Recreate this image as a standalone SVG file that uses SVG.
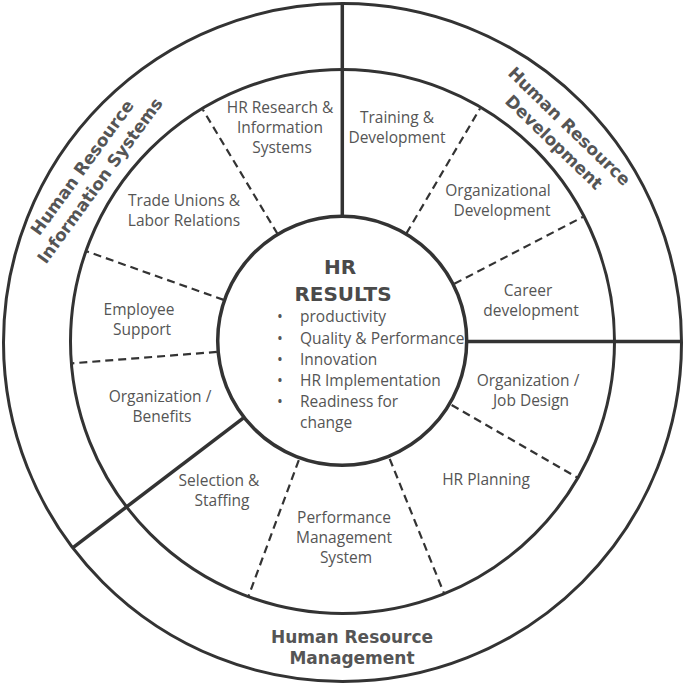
<svg xmlns="http://www.w3.org/2000/svg" width="685" height="683" viewBox="0 0 685 683">
<style>
.ring{fill:none;stroke:#333;stroke-width:3}
.solid{stroke:#333;stroke-width:3.5;fill:none}
.dash{stroke:#333;stroke-width:2.2;stroke-dasharray:8 5;fill:none}
.lbl{font-family:"Open Sans","DejaVu Sans",sans-serif;font-size:15.5px;fill:#555;text-anchor:middle}
.blt{font-family:"Open Sans","DejaVu Sans",sans-serif;font-size:15.5px;fill:#555}
.big{font-family:"DejaVu Sans","Verdana",sans-serif;font-weight:bold;font-size:17px;fill:#555;text-anchor:middle}
.ctr{font-family:"DejaVu Sans","Verdana",sans-serif;font-weight:bold;font-size:20px;fill:#4a4a4a;text-anchor:middle}
</style>
<rect width="685" height="683" fill="#fff"/>
<g id="rings">
<circle class="ring" cx="342.5" cy="342.5" r="339"/>
<circle class="ring" cx="342.5" cy="341.5" r="272"/>
</g>
<g id="connectors">
<line class="solid" x1="342.3" y1="216" x2="342.3" y2="3"/>
<line class="solid" x1="467" y1="341.5" x2="682" y2="341.5"/>
<line class="solid" x1="243.2" y1="418.2" x2="73" y2="547.6"/>
<line class="dash" x1="277.6" y1="234" x2="202.9" y2="109.7"/>
<line class="dash" x1="223.7" y1="299.9" x2="87.1" y2="251.5"/>
<line class="dash" x1="216.9" y1="351.9" x2="72.3" y2="363.3"/>
<line class="dash" x1="298.8" y1="460.2" x2="248.5" y2="596.2"/>
<line class="dash" x1="389.7" y1="458.8" x2="444" y2="593.3"/>
<line class="dash" x1="451.6" y1="405" x2="577.2" y2="477.5"/>
<line class="dash" x1="454.3" y1="283.8" x2="582.9" y2="216.9"/>
<line class="dash" x1="406.4" y1="233.4" x2="480" y2="108.5"/>
</g>
<g id="center">
<circle cx="342.2" cy="340.8" r="124.5" fill="#fff" stroke="#333" stroke-width="3.5"/>
<text class="ctr" x="340" y="274">HR</text>
<text class="ctr" x="343" y="301">RESULTS</text>
<text class="blt" x="277" y="322">•</text>
<text class="blt" x="300" y="322">productivity</text>
<text class="blt" x="277" y="343.5">•</text>
<text class="blt" x="300" y="343.5">Quality &amp; Performance</text>
<text class="blt" x="277" y="364.5">•</text>
<text class="blt" x="300" y="364.5">Innovation</text>
<text class="blt" x="277" y="385.5">•</text>
<text class="blt" x="300" y="385.5">HR Implementation</text>
<text class="blt" x="277" y="406.5">•</text>
<text class="blt" x="300" y="406.5">Readiness for</text>
<text class="blt" x="300" y="427.5">change</text>
</g>
<g id="hr-research"><text class="lbl" x="280" y="113">HR Research &amp;</text><text class="lbl" x="280" y="133">Information</text><text class="lbl" x="282" y="153">Systems</text></g>
<g id="training"><text class="lbl" x="397" y="123">Training &amp;</text><text class="lbl" x="397" y="143">Development</text></g>
<g id="org-dev"><text class="lbl" x="498" y="196">Organizational</text><text class="lbl" x="502" y="216">Development</text></g>
<g id="career"><text class="lbl" x="528" y="296">Career</text><text class="lbl" x="531" y="316">development</text></g>
<g id="job-design"><text class="lbl" x="528" y="386">Organization /</text><text class="lbl" x="531" y="406">Job Design</text></g>
<g id="hr-planning"><text class="lbl" x="486" y="485">HR Planning</text></g>
<g id="performance"><text class="lbl" x="344" y="523">Performance</text><text class="lbl" x="344" y="543">Management</text><text class="lbl" x="346" y="563">System</text></g>
<g id="selection"><text class="lbl" x="219" y="486">Selection &amp;</text><text class="lbl" x="222" y="506">Staffing</text></g>
<g id="benefits"><text class="lbl" x="160" y="401.5">Organization /</text><text class="lbl" x="162" y="422">Benefits</text></g>
<g id="employee-support"><text class="lbl" x="139" y="315">Employee</text><text class="lbl" x="142" y="335">Support</text></g>
<g id="trade-unions"><text class="lbl" x="184" y="206">Trade Unions &amp;</text><text class="lbl" x="184" y="226">Labor Relations</text></g>
<g id="hrm"><text class="big" x="352" y="643">Human Resource</text><text class="big" x="352" y="664">Management</text></g>
<g id="hris" transform="translate(91 174) rotate(-54)"><text class="big" x="0" y="-5">Human Resource</text><text class="big" x="0" y="17">Information Systems</text></g>
<g id="hrd" transform="translate(561.7 134.2) rotate(44)"><text class="big" x="0" y="-5">Human Resource</text><text class="big" x="0" y="17">Development</text></g>
</svg>
